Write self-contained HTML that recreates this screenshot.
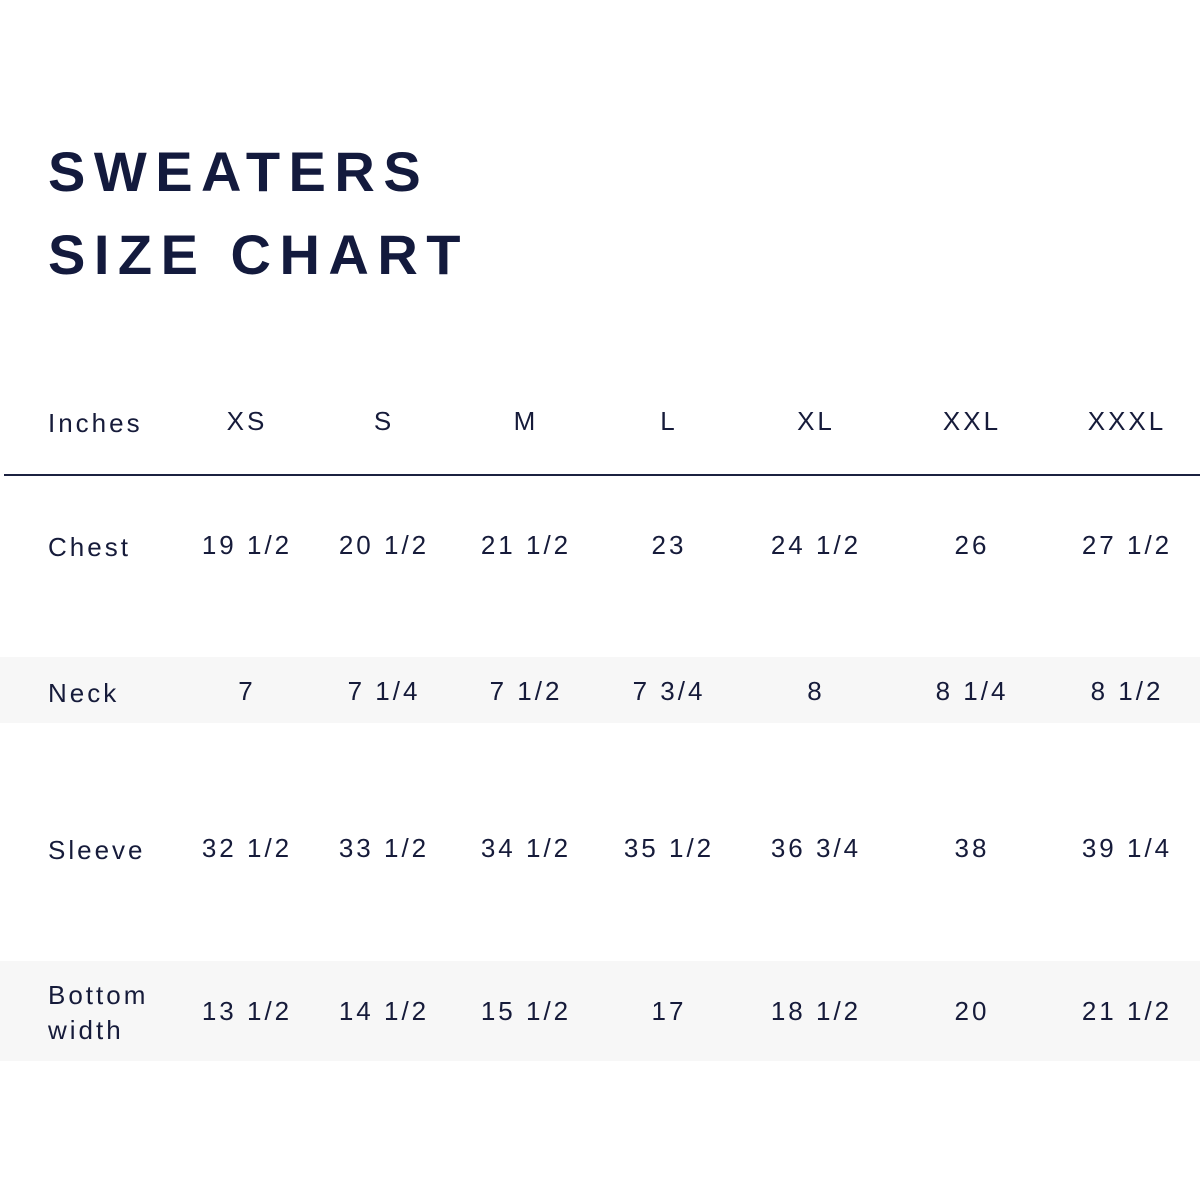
<!DOCTYPE html>
<html><head><style>
body{margin:0;width:1200px;height:1200px;background:#fff;position:relative;overflow:hidden;font-family:"Liberation Sans",sans-serif;color:#161b3a}
.t{position:absolute;left:48px;font-weight:bold;font-size:56px;letter-spacing:8.5px;line-height:1;color:#131a3d}
.band{position:absolute;left:0;width:1200px;background:#f7f7f7}
.c{position:absolute;font-size:26px;letter-spacing:3px;transform:translateX(-50%);white-space:nowrap;line-height:1}
.l{position:absolute;left:48px;font-size:26px;letter-spacing:3px;line-height:1}
</style></head><body>
<div class="t" style="top:144px">SWEATERS</div>
<div class="t" style="top:227px">SIZE CHART</div>
<div class="band" style="top:657px;height:66px"></div>
<div class="band" style="top:961px;height:100px"></div>
<div style="position:absolute;left:4px;top:474px;width:1196px;height:2px;background:#1b2140"></div>
<div id="rows"></div>
<script>
var xs=[247,384,526,669,816,972,1127];
var rows=[[408,"Inches",["XS","S","M","L","XL","XXL","XXXL"]],
[532,"Chest",["19 1/2","20 1/2","21 1/2","23","24 1/2","26","27 1/2"]],
[678,"Neck",["7","7 1/4","7 1/2","7 3/4","8","8 1/4","8 1/2"]],
[835,"Sleeve",["32 1/2","33 1/2","34 1/2","35 1/2","36 3/4","38","39 1/4"]],
[998,"",["13 1/2","14 1/2","15 1/2","17","18 1/2","20","21 1/2"]]];
var h="";
rows.forEach(function(r){
 if(r[1])h+='<div class="l" style="top:'+(r[0]+2)+'px">'+r[1]+'</div>';
 r[2].forEach(function(v,i){h+='<div class="c" style="top:'+r[0]+'px;left:'+xs[i]+'px">'+v+'</div>';});
});
h+='<div class="l" style="top:982px">Bottom</div><div class="l" style="top:1017px">width</div>';
document.getElementById("rows").innerHTML=h;
</script>
</body></html>
